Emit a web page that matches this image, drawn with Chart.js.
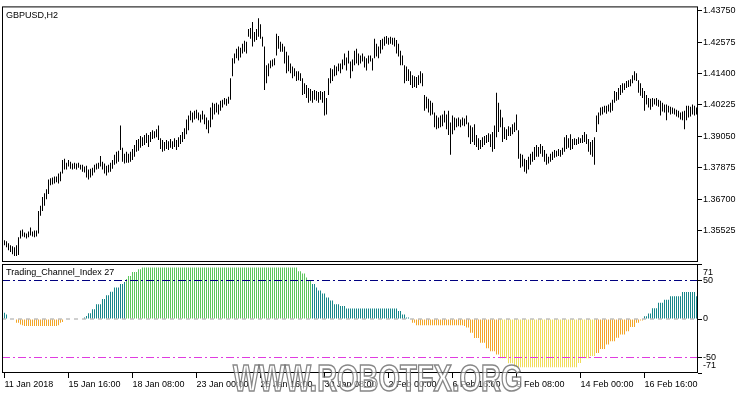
<!DOCTYPE html>
<html>
<head>
<meta charset="utf-8">
<script src="https://cdn.jsdelivr.net/npm/chart.js@4.4.1/dist/chart.umd.min.js"></script>
<style>
  body { margin: 0; background: #fff; }
  #wrap { position: relative; width: 750px; height: 394px; }
  canvas { position: absolute; left: 0; top: 0; }
</style>
</head>
<body>
<div id="wrap">
  <canvas id="priceChart" width="750" height="394"></canvas>
  <canvas id="tciChart" width="750" height="394"></canvas>
</div>
<script>
// GBPUSD H2 bars (high / low), one entry per bar
var highs = [
  1.3516, 1.3512, 1.3505, 1.3497, 1.3494, 1.3490, 1.3497, 1.3527, 1.3553, 1.3556,
  1.3545, 1.3541, 1.3549, 1.3564, 1.3549, 1.3553, 1.3553, 1.3626, 1.3645, 1.3678,
  1.3692, 1.3707, 1.3744, 1.3748, 1.3751, 1.3755, 1.3755, 1.3766, 1.3773, 1.3817,
  1.3821, 1.3806, 1.3817, 1.3810, 1.3803, 1.3806, 1.3803, 1.3806, 1.3799, 1.3799,
  1.3792, 1.3795, 1.3781, 1.3784, 1.3788, 1.3799, 1.3803, 1.3806, 1.3832, 1.3810,
  1.3803, 1.3795, 1.3799, 1.3806, 1.3817, 1.3836, 1.3847, 1.3851, 1.3946, 1.3862,
  1.3840, 1.3847, 1.3840, 1.3847, 1.3858, 1.3873, 1.3891, 1.3895, 1.3906, 1.3902,
  1.3910, 1.3917, 1.3910, 1.3921, 1.3928, 1.3924, 1.3932, 1.3946, 1.3898, 1.3891,
  1.3884, 1.3891, 1.3887, 1.3895, 1.3887, 1.3898, 1.3891, 1.3902, 1.3910, 1.3921,
  1.3935, 1.3968, 1.3983, 1.4001, 1.3994, 1.4001, 1.4005, 1.3994, 1.3987, 1.4001,
  1.3987, 1.3976, 1.3965, 1.4013, 1.4031, 1.4027, 1.4031, 1.4024, 1.4038, 1.4042,
  1.4049, 1.4046, 1.4053, 1.4123, 1.4197, 1.4215, 1.4233, 1.4241, 1.4237, 1.4252,
  1.4263, 1.4259, 1.4307, 1.4311, 1.4333, 1.4296, 1.4307, 1.4347, 1.4325, 1.4278,
  1.4241, 1.4171, 1.4178, 1.4189, 1.4193, 1.4197, 1.4289, 1.4281, 1.4259, 1.4252,
  1.4241, 1.4222, 1.4208, 1.4178, 1.4167, 1.4160, 1.4149, 1.4149, 1.4141, 1.4123,
  1.4104, 1.4097, 1.4086, 1.4082, 1.4075, 1.4079, 1.4075, 1.4071, 1.4075, 1.4071,
  1.4075, 1.4049, 1.4123, 1.4160, 1.4156, 1.4171, 1.4167, 1.4178, 1.4178, 1.4193,
  1.4215, 1.4200, 1.4226, 1.4185, 1.4193, 1.4226, 1.4233, 1.4215, 1.4208, 1.4215,
  1.4204, 1.4197, 1.4208, 1.4208, 1.4197, 1.4270, 1.4252, 1.4241, 1.4266, 1.4270,
  1.4278, 1.4281, 1.4274, 1.4278, 1.4274, 1.4274, 1.4266, 1.4252, 1.4226, 1.4208,
  1.4171, 1.4167, 1.4156, 1.4149, 1.4134, 1.4130, 1.4127, 1.4134, 1.4149, 1.4141,
  1.4060, 1.4053, 1.4046, 1.4038, 1.4031, 1.3994, 1.3983, 1.3976, 1.3983, 1.3987,
  1.4001, 1.3987, 1.4001, 1.3957, 1.3983, 1.3976, 1.3972, 1.3976, 1.3968, 1.3976,
  1.3972, 1.3983, 1.3957, 1.3946, 1.3939, 1.3950, 1.3910, 1.3898, 1.3891, 1.3902,
  1.3906, 1.3910, 1.3917, 1.3913, 1.3921, 1.3946, 1.4068, 1.4031, 1.4005, 1.3976,
  1.3939, 1.3932, 1.3943, 1.3939, 1.3950, 1.3957, 1.3987, 1.3928, 1.3840, 1.3836,
  1.3821, 1.3817, 1.3829, 1.3840, 1.3847, 1.3865, 1.3873, 1.3865, 1.3876, 1.3869,
  1.3854, 1.3840, 1.3829, 1.3840, 1.3847, 1.3854, 1.3851, 1.3858, 1.3854, 1.3862,
  1.3902, 1.3910, 1.3898, 1.3913, 1.3895, 1.3898, 1.3895, 1.3902, 1.3898, 1.3910,
  1.3921, 1.3913, 1.3895, 1.3884, 1.3891, 1.3902, 1.3983, 1.3994, 1.4013, 1.4016,
  1.4020, 1.4020, 1.4024, 1.4031, 1.4042, 1.4075, 1.4071, 1.4086, 1.4097, 1.4104,
  1.4104, 1.4112, 1.4115, 1.4119, 1.4134, 1.4149, 1.4141, 1.4115, 1.4104, 1.4086,
  1.4075, 1.4060, 1.4049, 1.4046, 1.4049, 1.4046, 1.4049, 1.4042, 1.4038, 1.4031,
  1.4024, 1.4024, 1.4020, 1.4016, 1.4013, 1.4009, 1.4005, 1.4001, 1.3994, 1.3998,
  1.4001, 1.4020, 1.4020, 1.4016, 1.4024, 1.4020, 1.4013
];
var lows = [
  1.3497, 1.3490, 1.3479, 1.3472, 1.3464, 1.3457, 1.3457, 1.3461, 1.3523, 1.3530,
  1.3527, 1.3523, 1.3527, 1.3534, 1.3530, 1.3527, 1.3530, 1.3541, 1.3608, 1.3626,
  1.3645, 1.3670, 1.3689, 1.3722, 1.3725, 1.3729, 1.3733, 1.3729, 1.3737, 1.3766,
  1.3781, 1.3781, 1.3792, 1.3784, 1.3781, 1.3784, 1.3781, 1.3788, 1.3781, 1.3773,
  1.3770, 1.3751, 1.3744, 1.3751, 1.3759, 1.3770, 1.3781, 1.3784, 1.3792, 1.3781,
  1.3766, 1.3759, 1.3770, 1.3773, 1.3784, 1.3799, 1.3803, 1.3810, 1.3854, 1.3810,
  1.3803, 1.3806, 1.3806, 1.3810, 1.3817, 1.3829, 1.3847, 1.3851, 1.3862, 1.3869,
  1.3873, 1.3880, 1.3865, 1.3884, 1.3895, 1.3898, 1.3902, 1.3891, 1.3858, 1.3847,
  1.3851, 1.3858, 1.3854, 1.3862, 1.3858, 1.3865, 1.3854, 1.3865, 1.3876, 1.3884,
  1.3895, 1.3913, 1.3928, 1.3965, 1.3957, 1.3968, 1.3972, 1.3965, 1.3957, 1.3968,
  1.3950, 1.3932, 1.3917, 1.3939, 1.3968, 1.3987, 1.3994, 1.3987, 1.4001, 1.4013,
  1.4024, 1.4020, 1.4027, 1.4042, 1.4130, 1.4178, 1.4197, 1.4189, 1.4200, 1.4215,
  1.4222, 1.4215, 1.4278, 1.4270, 1.4241, 1.4259, 1.4266, 1.4278, 1.4270, 1.4241,
  1.4079, 1.4104, 1.4130, 1.4160, 1.4167, 1.4171, 1.4208, 1.4233, 1.4222, 1.4222,
  1.4178, 1.4141, 1.4149, 1.4141, 1.4123, 1.4130, 1.4112, 1.4115, 1.4112, 1.4060,
  1.4064, 1.4049, 1.4031, 1.4038, 1.4031, 1.4042, 1.4038, 1.4031, 1.4042, 1.4031,
  1.3983, 1.3987, 1.4060, 1.4104, 1.4112, 1.4130, 1.4134, 1.4149, 1.4141, 1.4156,
  1.4171, 1.4152, 1.4178, 1.4123, 1.4149, 1.4171, 1.4178, 1.4171, 1.4178, 1.4185,
  1.4163, 1.4152, 1.4178, 1.4185, 1.4152, 1.4197, 1.4204, 1.4197, 1.4215, 1.4230,
  1.4244, 1.4252, 1.4248, 1.4252, 1.4248, 1.4241, 1.4215, 1.4204, 1.4171, 1.4171,
  1.4104, 1.4112, 1.4112, 1.4097, 1.4086, 1.4090, 1.4086, 1.4097, 1.4104, 1.4093,
  1.4001, 1.4009, 1.3994, 1.3983, 1.3987, 1.3939, 1.3932, 1.3935, 1.3939, 1.3943,
  1.3957, 1.3932, 1.3910, 1.3836, 1.3913, 1.3928, 1.3939, 1.3943, 1.3939, 1.3946,
  1.3943, 1.3950, 1.3902, 1.3876, 1.3884, 1.3873, 1.3865, 1.3854, 1.3858, 1.3865,
  1.3873, 1.3880, 1.3884, 1.3865, 1.3847, 1.3858, 1.3902, 1.3921, 1.3939, 1.3884,
  1.3895, 1.3891, 1.3906, 1.3906, 1.3913, 1.3921, 1.3928, 1.3821, 1.3788, 1.3792,
  1.3773, 1.3766, 1.3781, 1.3799, 1.3810, 1.3817, 1.3829, 1.3829, 1.3840, 1.3829,
  1.3810, 1.3799, 1.3803, 1.3810, 1.3817, 1.3825, 1.3829, 1.3832, 1.3829, 1.3836,
  1.3847, 1.3858, 1.3862, 1.3854, 1.3858, 1.3873, 1.3873, 1.3876, 1.3880, 1.3880,
  1.3884, 1.3876, 1.3847, 1.3836, 1.3829, 1.3799, 1.3921, 1.3950, 1.3983, 1.3987,
  1.3994, 1.3990, 1.3998, 1.3994, 1.4001, 1.4031, 1.4038, 1.4042, 1.4060, 1.4068,
  1.4079, 1.4086, 1.4090, 1.4093, 1.4104, 1.4115, 1.4112, 1.4068, 1.4057, 1.4049,
  1.4001, 1.4024, 1.4013, 1.4005, 1.4016, 1.4024, 1.4020, 1.4016, 1.3983, 1.3998,
  1.3994, 1.3965, 1.3994, 1.3987, 1.3990, 1.3987, 1.3979, 1.3976, 1.3968, 1.3965,
  1.3932, 1.3965, 1.3976, 1.3979, 1.3987, 1.3983, 1.3987
];

// Trading_Channel_Index 27 histogram
var tci = [
  8, 6, 0, 0, 0, 0, -5, -5, -7, -8,
  -9, -9, -9, -9, -9, -9, -9, -9, -9, -9,
  -9, -9, -9, -9, -9, -9, -9, -8, -5, -4,
  0, 0, 0, 0, 0, 0, 0, 0, 0, 0,
  2, 4, 7.5, 7.5, 12.7, 12.7, 19, 19, 19, 26,
  26, 31, 31, 35.5, 35.5, 41, 41, 41, 45.6, 45.6,
  48, 52, 55.7, 55.7, 61, 61, 61, 64.5, 64.5, 67,
  67, 67, 67, 67, 67, 67, 67, 67, 67, 67,
  67, 67, 67, 67, 67, 67, 67, 67, 67, 67,
  67, 67, 67, 67, 67, 67, 67, 67, 67, 67,
  67, 67, 67, 67, 67, 67, 67, 67, 67, 67,
  67, 67, 67, 67, 67, 67, 67, 67, 67, 67,
  67, 67, 67, 67, 67, 67, 67, 67, 67, 67,
  67, 67, 67, 67, 67, 67, 67, 67, 67, 67,
  67, 67, 67, 67, 67, 67, 67, 62, 62, 59,
  59, 54, 50, 50, 45.6, 45.6, 41, 37, 37, 33,
  33, 28, 28, 24, 24, 19, 19, 19, 17, 17,
  17, 13.6, 13.6, 13.6, 13.6, 13.6, 13.6, 13.6, 13.6, 13.6,
  13.6, 13.6, 13.6, 13.6, 13.6, 13.6, 13.6, 13.6, 13.6, 13.6,
  13.6, 13.6, 13.6, 13.6, 13.6, 13.6, 13.6, 10.5, 10.5, 6,
  6, 2, 2, 0, -5, -5, -8, -8, -8, -8,
  -8, -8, -8, -8, -8, -8, -8, -8, -8, -8,
  -8, -8, -8, -8, -8, -8, -8, -8, -8, -8,
  -9, -11, -11, -18, -18, -24.6, -24.6, -24.6, -31, -31,
  -31, -38, -38, -42, -42, -42, -46, -46, -51, -51,
  -51, -51, -57.5, -57.5, -57.5, -62.7, -62.7, -62.7, -62.7, -62.7,
  -62.7, -62.7, -62.7, -62.7, -62.7, -62.7, -62.7, -62.7, -62.7, -62.7,
  -62.7, -62.7, -62.7, -62.7, -62.7, -62.7, -62.7, -62.7, -62.7, -62.7,
  -62.7, -62.7, -62.7, -62.7, -62.7, -62.7, -62.7, -57, -57, -51,
  -51, -51, -51, -48, -48, -48, -44, -44, -39, -39,
  -39, -33, -33, -29, -29, -29, -24.5, -24.5, -20, -20,
  -20, -16, -16, -10.4, -10.4, -10.4, -5, -5, -2, -2,
  3.5, 3.5, 7, 7, 14, 14, 14, 21, 21, 21,
  25, 25, 25, 29.5, 29.5, 29.5, 29.5, 29.5, 29.5, 35,
  35, 35, 35, 35, 35, 35, 29.5
];

var priceTicks = [1.43750, 1.42575, 1.41400, 1.40225, 1.39050, 1.37875, 1.36700, 1.35525];
var tciTicks = [71, 50, 0, -50, -71];
var levels = [50, -50];
var timeTickBars = [0, 32, 64, 96, 128, 160, 192, 224, 256, 288, 320];
var timeLabels = ["11 Jan 2018", "15 Jan 16:00", "18 Jan 08:00", "23 Jan 00:00", "25 Jan 16:00",
  "30 Jan 08:00", "2 Feb 00:00", "6 Feb 16:00", "9 Feb 08:00", "14 Feb 00:00", "16 Feb 16:00"];

Chart.defaults.font.family = "'Liberation Sans', Arial, sans-serif";
Chart.defaults.font.size = 9;
Chart.defaults.color = '#000';

var X_MIN = -1.25, X_MAX = 346.75;

// frame round the plot area + panel caption
function panelFrame(caption) {
  return {
    id: 'frame',
    afterDraw: function(chart) {
      var c = chart.ctx, a = chart.chartArea;
      c.save();
      c.strokeStyle = '#000';
      c.lineWidth = 1;
      c.strokeRect(a.left + 0.5, a.top + 0.5, a.right - a.left - 1, a.bottom - a.top - 1);
      c.font = "9px 'Liberation Sans', Arial, sans-serif";
      c.fillStyle = '#000';
      c.textBaseline = 'middle';
      c.fillText(caption, a.left + 4, a.top + 9);
      c.restore();
    }
  };
}

var watermark = {
  id: 'watermark',
  afterDraw: function(chart) {
    var c = chart.ctx;
    c.save();
    c.translate(233, 391);
    c.scale(0.745, 1);
    c.font = "bold 37px 'Liberation Sans', Arial, sans-serif";
    c.textBaseline = 'alphabetic';
    c.fillStyle = 'rgba(255,255,255,0.55)';
    c.fillText('WWW.ROBOTFX.ORG', 0, 0);
    c.strokeStyle = 'rgba(105,105,105,0.8)';
    c.lineWidth = 1.6;
    c.strokeText('WWW.ROBOTFX.ORG', 0, 0);
    c.restore();
  }
};

// edge labels (top/bottom values) sit inside the panel, as the terminal draws them
function nudgeEdgeLabels(s, shift) {
  var orig = s._computeLabelItems;
  s._computeLabelItems = function(ca) {
    var items = orig.call(this, ca);
    if (shift && items.length) {
      items[0].options.translation[1] += shift;
      items[items.length - 1].options.translation[1] -= shift;
    }
    return items;
  };
}

function rightAxis(min, max, tickVals, fmt, shift) {
  return {
    position: 'right',
    min: min,
    max: max,
    afterFit: function(s) { s.width = 52; },
    afterBuildTicks: function(s) { s.ticks = tickVals.map(function(v) { return { value: v }; }); },
    afterUpdate: function(s) { nudgeEdgeLabels(s, shift); },
    ticks: { callback: fmt, padding: 1, autoSkip: false },
    grid: { drawOnChartArea: false, drawTicks: true, tickLength: 4, color: '#000' },
    border: { display: false }
  };
}

var priceBars = highs.map(function(h, i) { return { x: i, y: [lows[i], h] }; });

new Chart(document.getElementById('priceChart'), {
  type: 'bar',
  data: {
    datasets: [{
      data: priceBars,
      backgroundColor: '#000',
      borderWidth: 0,
      inflateAmount: 0,
      barThickness: 1
    }]
  },
  options: {
    responsive: false,
    animation: false,
    layout: { padding: { left: 2, top: 2, right: 0, bottom: 132 } },
    plugins: { legend: { display: false }, tooltip: { enabled: false } },
    scales: {
      x: { type: 'linear', min: X_MIN, max: X_MAX, offset: false, display: false },
      y: rightAxis(1.343473, 1.439156, priceTicks, function(v) { return v.toFixed(5); }, 0)
    }
  },
  plugins: [panelFrame('GBPUSD,H2')]
});

function tciColor(v) {
  if (v >= 50) return '#5cc65c';
  if (v > 0) return '#17878a';
  if (v > -47) return '#f2a62a';
  return '#f0dd5a';
}

var levelColors = ['#000080', '#e03ce0'];
var lineSets = levels.map(function(lv, k) {
  return {
    type: 'line',
    data: [{ x: X_MIN, y: lv }, { x: X_MAX, y: lv }],
    borderColor: levelColors[k],
    borderWidth: 1,
    borderDash: [8, 3, 2, 3],
    pointRadius: 0,
    order: 1
  };
});
lineSets.push({
  type: 'line',
  data: [{ x: X_MIN, y: 0 }, { x: X_MAX, y: 0 }],
  borderColor: '#a0a0a0',
  borderWidth: 1,
  borderDash: [4, 4],
  pointRadius: 0,
  order: 1
});

new Chart(document.getElementById('tciChart'), {
  type: 'bar',
  data: {
    datasets: [{
      data: tci.map(function(v, i) { return { x: i, y: v }; }),
      backgroundColor: tci.map(tciColor),
      borderWidth: 0,
      inflateAmount: 0,
      barThickness: 1,
      order: 2
    }].concat(lineSets)
  },
  options: {
    responsive: false,
    animation: false,
    layout: { padding: { left: 2, top: 264, right: 0, bottom: 0 } },
    plugins: { legend: { display: false }, tooltip: { enabled: false } },
    scales: {
      x: {
        type: 'linear',
        min: X_MIN,
        max: X_MAX,
        offset: false,
        afterFit: function(s) { s.height = 21; },
        afterBuildTicks: function(s) { s.ticks = timeTickBars.map(function(v) { return { value: v }; }); },
        ticks: {
          autoSkip: false,
          maxRotation: 0,
          align: 'start',
          padding: 1,
          callback: function(v, idx) { return timeLabels[idx]; }
        },
        grid: { drawOnChartArea: false, drawTicks: true, tickLength: 5, color: '#000', offset: false },
        border: { display: false }
      },
      y: rightAxis(-70.13, 71.43, tciTicks, function(v) { return String(v); }, 4)
    }
  },
  plugins: [panelFrame('Trading_Channel_Index 27'), watermark]
});
</script>
</body>
</html>
